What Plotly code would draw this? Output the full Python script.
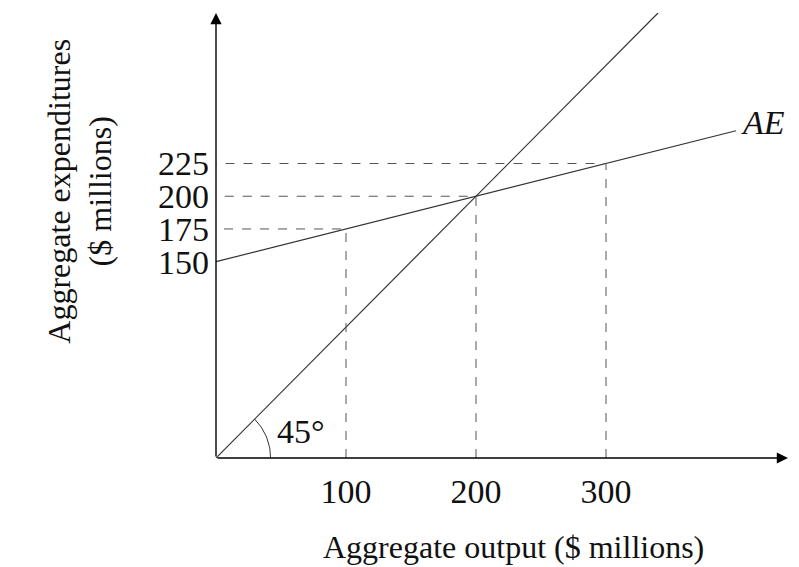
import plotly.graph_objects as go
import numpy as np

# data
output_vals = [0, 100, 200, 300, 400]
ae_vals = [150, 175, 200, 225, 250]
line45_x = [0, 340]
line45_y = [0, 340]
x_ticks = [100, 200, 300]
y_ticks = [150, 175, 200, 225]
eq_points = [(100, 175), (200, 200), (300, 225)]

font = "Liberation Serif"
fig = go.Figure()

fig.add_trace(go.Scatter(x=output_vals, y=ae_vals, mode="lines",
                         line=dict(color="#333", width=1.2), hoverinfo="skip"))
fig.add_trace(go.Scatter(x=line45_x, y=line45_y, mode="lines",
                         line=dict(color="#333", width=1.2), hoverinfo="skip"))

# dashed guides
for xv, yv in eq_points:
    fig.add_trace(go.Scatter(x=[xv, xv, 0], y=[0, yv, yv], mode="lines",
                             line=dict(color="#555", width=1, dash="dash"),
                             hoverinfo="skip"))

# 45 degree arc
t = np.linspace(0, np.pi / 4, 20)
fig.add_trace(go.Scatter(x=42 * np.cos(t), y=42 * np.sin(t), mode="lines",
                         line=dict(color="#333", width=1), hoverinfo="skip"))

# axes with arrows
fig.add_annotation(x=440, y=0, ax=0, ay=0, xref="x", yref="y", axref="x", ayref="y",
                   showarrow=True, arrowhead=2, arrowsize=1.6, arrowwidth=1.4,
                   arrowcolor="#000", text="")
fig.add_annotation(x=0, y=340, ax=0, ay=0, xref="x", yref="y", axref="x", ayref="y",
                   showarrow=True, arrowhead=2, arrowsize=1.6, arrowwidth=1.4,
                   arrowcolor="#000", text="")

fig.add_annotation(x=45, y=20, text="45°", showarrow=False, xanchor="left",
                   font=dict(family=font, size=34, color="#111"))
fig.add_annotation(x=402, y=256, text="<i>AE</i>", showarrow=False, xanchor="left",
                   font=dict(family=font, size=34, color="#111"))
fig.add_annotation(x=-0.31, y=0.6, xref="paper", yref="paper",
                   text="Aggregate expenditures<br>($ millions)", textangle=-90,
                   showarrow=False, font=dict(family=font, size=32, color="#111"))
fig.add_annotation(x=0.52, y=-0.245, xref="paper", yref="paper",
                   text="Aggregate output ($ millions)", showarrow=False,
                   font=dict(family=font, size=32, color="#111"))

fig.update_layout(
    width=799, height=567, showlegend=False,
    plot_bgcolor="white", paper_bgcolor="white",
    margin=dict(l=208, r=19, t=5, b=117),
    xaxis=dict(range=[0, 440], tickvals=x_ticks, showgrid=False, zeroline=False,
               showline=False, ticks="", ticklabelstandoff=10,
               tickfont=dict(family=font, size=34, color="#111")),
    yaxis=dict(range=[0, 340], tickvals=y_ticks, showgrid=False, zeroline=False,
               showline=False, ticks="", ticklabelstandoff=6,
               tickfont=dict(family=font, size=34, color="#111")),
)

fig.write_html("out.html")
